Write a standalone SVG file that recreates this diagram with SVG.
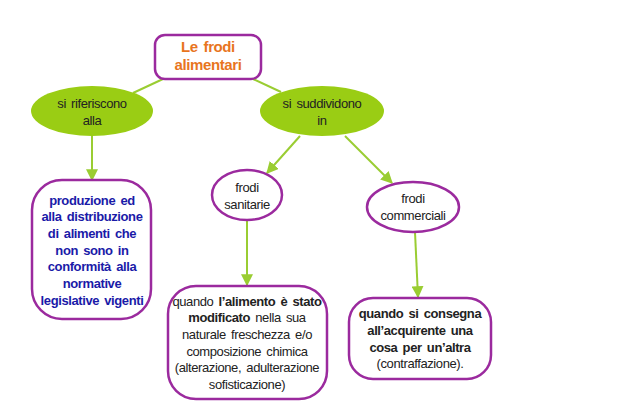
<svg xmlns="http://www.w3.org/2000/svg" width="618" height="417" viewBox="0 0 618 417">
<style>
text{font-family:"Liberation Sans",Arial,sans-serif;font-size:13px;text-anchor:middle;fill:#222;letter-spacing:-0.4px;word-spacing:2px}
.box{fill:#fff;stroke:#9b2a9e;stroke-width:2.5}
.ell{fill:#9acd14;stroke:none}
.c{stroke:#9acd32;stroke-width:2;fill:none}
.b{font-weight:bold}
.blue{fill:#1a1aa8;font-weight:bold}
</style>
<defs><marker id="ah" viewBox="0 0 10 10" refX="9" refY="5" markerWidth="6" markerHeight="6" orient="auto"><path d="M0,0L10,5L0,10z" fill="#9acd32"/></marker></defs>
<rect width="618" height="417" fill="#fff"/>
<g id="connectors">
<line class="c" x1="163" y1="79" x2="133" y2="93"/>
<line class="c" x1="253" y1="79" x2="281" y2="92"/>
<line class="c" x1="92" y1="136" x2="92" y2="180" marker-end="url(#ah)"/>
<line class="c" x1="300" y1="136" x2="267" y2="173" marker-end="url(#ah)"/>
<line class="c" x1="345" y1="136" x2="392" y2="183" marker-end="url(#ah)"/>
<line class="c" x1="247" y1="220" x2="247" y2="285" marker-end="url(#ah)"/>
<line class="c" x1="415" y1="232" x2="418" y2="297" marker-end="url(#ah)"/>
</g>
<g id="title"><rect class="box" x="155" y="35" width="106" height="44" rx="10"/>
<text x="208" y="52" style="fill:#e8751e;font-weight:bold;font-size:15px">Le frodi</text>
<text x="208" y="70" style="fill:#e8751e;font-weight:bold;font-size:15px">alimentari</text></g>
<g id="riferiscono"><ellipse class="ell" cx="92" cy="111" rx="61" ry="25"/>
<text x="92" y="108">si riferiscono</text><text x="92" y="125">alla</text></g>
<g id="suddividono"><ellipse class="ell" cx="322" cy="111" rx="62" ry="25"/>
<text x="322" y="108">si suddividono</text><text x="322" y="125">in</text></g>
<g id="produzione"><rect class="box" x="32" y="180" width="119" height="139" rx="30"/>
<text class="blue" x="92" y="205">produzione ed</text>
<text class="blue" x="92" y="221">alla distribuzione</text>
<text class="blue" x="92" y="238">di alimenti che</text>
<text class="blue" x="92" y="255">non sono in</text>
<text class="blue" x="92" y="271">conformità alla</text>
<text class="blue" x="92" y="288">normative</text>
<text class="blue" x="92" y="305">legislative vigenti</text></g>
<g id="sanitarie"><ellipse class="box" cx="247" cy="195" rx="35" ry="25"/>
<text x="247" y="192">frodi</text><text x="247" y="209">sanitarie</text></g>
<g id="commerciali"><ellipse class="box" cx="413" cy="207" rx="46" ry="25"/>
<text x="413" y="203">frodi</text><text x="413" y="220">commerciali</text></g>
<g id="modificato"><rect class="box" x="168" y="286" width="159" height="113" rx="28"/>
<text x="247" y="306">quando <tspan class="b">l’alimento è stato</tspan></text>
<text x="247" y="322"><tspan class="b">modificato</tspan> nella sua</text>
<text x="247" y="339">naturale freschezza e/o</text>
<text x="247" y="356">composizione chimica</text>
<text x="247" y="372">(alterazione, adulterazione</text>
<text x="247" y="389">sofisticazione)</text></g>
<g id="consegna"><rect class="box" x="349" y="298" width="142" height="81" rx="24"/>
<text class="b" x="420" y="318">quando si consegna</text>
<text class="b" x="420" y="335">all’acquirente una</text>
<text class="b" x="420" y="352">cosa per un’altra</text>
<text x="420" y="368">(contraffazione).</text></g>
</svg>
